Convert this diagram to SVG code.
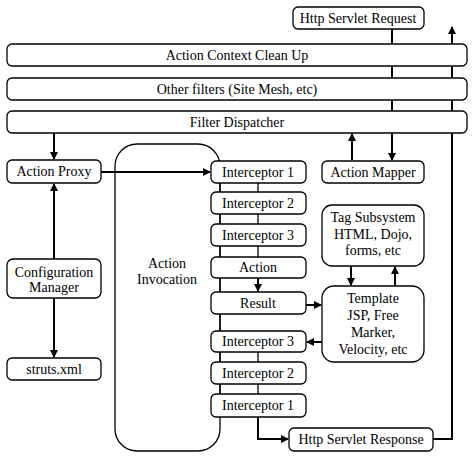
<svg xmlns="http://www.w3.org/2000/svg" width="474" height="464" viewBox="0 0 474 464">
<defs>
<style>
.b{fill:#fff;stroke:#000;stroke-width:1.3}
text{font-family:'Liberation Serif',serif;font-size:14px;fill:#000;text-anchor:middle}
.c{fill:none;stroke:#000;stroke-width:2}
.l{fill:none;stroke:#000;stroke-width:1.3}
</style>
<marker id="a" markerWidth="8" markerHeight="8" refX="7" refY="4" orient="auto" markerUnits="userSpaceOnUse">
<path d="M0,0 L8,4 L0,8 Z" fill="#000"/>
</marker>
</defs>
<rect width="474" height="464" fill="#fff"/>
<g id="action-invocation">
<rect class="b" x="115" y="144" width="105" height="307" rx="22"/>
<text x="167" y="268" font-family="Liberation Serif">Action</text>
<text x="167" y="284" font-family="Liberation Serif">Invocation</text>
</g>
<g id="connectors">
<path class="l" d="M220,183V192M258,183V192M220,214V224M258,214V224M220,246V257M258,246V257M220,278V292M220,314V331M220,352V362M258,352V362M220,384V394M258,384V394"/>
<path class="c" d="M54,133V159" marker-end="url(#a)"/>
<path class="c" d="M352,160V134" marker-end="url(#a)"/>
<path class="c" d="M392,29V160" marker-end="url(#a)"/>
<path class="c" d="M433,439H452V27" marker-end="url(#a)"/>
<path class="c" d="M101,172H210" marker-end="url(#a)"/>
<path class="c" d="M54,259V184" marker-end="url(#a)"/>
<path class="c" d="M54,298V357" marker-end="url(#a)"/>
<path class="c" d="M258,278V291" marker-end="url(#a)"/>
<path class="c" d="M306,305H321" marker-end="url(#a)"/>
<path class="c" d="M322,342H307" marker-end="url(#a)"/>
<path class="c" d="M351,266V285" marker-end="url(#a)"/>
<path class="c" d="M395,286V267" marker-end="url(#a)"/>
<path class="c" d="M258,417V439H288" marker-end="url(#a)"/>
</g>
<g id="http-request"><rect class="b" x="293" y="7" width="131" height="22" rx="5"/><text x="358" y="23">Http Servlet Request</text></g>
<g id="cleanup"><rect class="b" x="7" y="44" width="460" height="22" rx="5"/><text x="237" y="60">Action Context Clean Up</text></g>
<g id="other-filters"><rect class="b" x="7" y="78" width="460" height="22" rx="5"/><text x="237" y="94">Other filters (Site Mesh, etc)</text></g>
<g id="filter-dispatcher"><rect class="b" x="7" y="111" width="460" height="22" rx="5"/><text x="237" y="127">Filter Dispatcher</text></g>
<g id="action-proxy"><rect class="b" x="7" y="160" width="94" height="23" rx="5"/><text x="54" y="176">Action Proxy</text></g>
<g id="config-manager"><rect class="b" x="7" y="259" width="94" height="39" rx="6"/><text x="54" y="277">Configuration</text><text x="54" y="292">Manager</text></g>
<g id="struts-xml"><rect class="b" x="7" y="358" width="94" height="22" rx="5"/><text x="54" y="374">struts.xml</text></g>
<g id="int1-in"><rect class="b" x="211" y="161" width="95" height="22" rx="5"/><text x="258" y="177">Interceptor 1</text></g>
<g id="int2-in"><rect class="b" x="211" y="192" width="95" height="22" rx="5"/><text x="258" y="208">Interceptor 2</text></g>
<g id="int3-in"><rect class="b" x="211" y="224" width="95" height="22" rx="5"/><text x="258" y="240">Interceptor 3</text></g>
<g id="action"><rect class="b" x="211" y="257" width="95" height="21" rx="5"/><text x="258" y="272">Action</text></g>
<g id="result"><rect class="b" x="211" y="292" width="95" height="22" rx="5"/><text x="258" y="308">Result</text></g>
<g id="int3-out"><rect class="b" x="211" y="331" width="95" height="21" rx="5"/><text x="258" y="346">Interceptor 3</text></g>
<g id="int2-out"><rect class="b" x="211" y="362" width="95" height="22" rx="5"/><text x="258" y="378">Interceptor 2</text></g>
<g id="int1-out"><rect class="b" x="211" y="394" width="95" height="23" rx="5"/><text x="258" y="410">Interceptor 1</text></g>
<g id="action-mapper"><rect class="b" x="322" y="161" width="102" height="22" rx="5"/><text x="373" y="177">Action Mapper</text></g>
<g id="tag-subsystem"><rect class="b" x="322" y="205" width="102" height="61" rx="10"/><text x="373" y="222">Tag Subsystem</text><text x="373" y="239">HTML, Dojo,</text><text x="373" y="255">forms, etc</text></g>
<g id="template"><rect class="b" x="322" y="286" width="102" height="76" rx="12"/><text x="373" y="303">Template</text><text x="373" y="320">JSP, Free</text><text x="373" y="337">Marker,</text><text x="373" y="354">Velocity, etc</text></g>
<g id="http-response"><rect class="b" x="289" y="428" width="144" height="23" rx="5"/><text x="361" y="444">Http Servlet Response</text></g>
</svg>
